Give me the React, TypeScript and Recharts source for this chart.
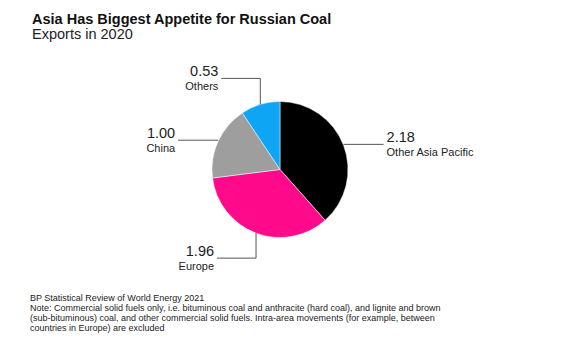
import { PieChart, Pie, Cell } from "recharts";

const regions = ["Other Asia Pacific", "Europe", "China", "Others"];
const exportsValues = [2.18, 1.96, 1.0, 0.53];
const colors = ["#000000", "#ff0a8a", "#9e9e9e", "#0ea5f5"];

const title = "Asia Has Biggest Appetite for Russian Coal";
const subtitle = "Exports in 2020";
const footer = [
  "BP Statistical Review of World Energy 2021",
  "Note: Commercial solid fuels only, i.e. bituminous coal and anthracite (hard coal), and lignite and brown",
  "(sub-bituminous) coal, and other commercial solid fuels. Intra-area movements (for example, between",
  "countries in Europe) are excluded",
];

const data = regions.map((name, i) => ({ name, value: exportsValues[i] }));

const FONT = "'Liberation Sans', Arial, sans-serif";
const RADIAN = Math.PI / 180;

function renderLabel(props: any) {
  const { cx, cy, midAngle, outerRadius, name, value } = props;
  const cos = Math.cos(-midAngle * RADIAN);
  const sin = Math.sin(-midAngle * RADIAN);
  const ex = cx + outerRadius * cos;
  const ey = cy + outerRadius * sin;
  let path: string;
  let lx: number;
  let ly: number;
  let anchor: "start" | "end";
  if (Math.abs(sin) > 0.8) {
    // elbow: go up/down, then left
    ly = ey + (sin < 0 ? -26 : 25);
    lx = ex - 39;
    path = `M${ex},${ey}L${ex},${ly}L${lx},${ly}`;
    anchor = "end";
    lx -= 3;
  } else {
    ly = ey - 1;
    const dir = cos >= 0 ? 1 : -1;
    const endX = ex + dir * 40;
    path = `M${ex},${ly}L${endX},${ly}`;
    anchor = dir > 0 ? "start" : "end";
    lx = endX + dir * 3;
  }
  const text = value.toFixed(2);
  return (
    <g>
      <path d={path} stroke="#555" strokeWidth={1} fill="none" />
      <text x={lx} y={ly - 2} textAnchor={anchor} fontSize={14.5} fill="#222" fontFamily={FONT}>
        {text}
      </text>
      <text x={lx} y={ly + 11.5} textAnchor={anchor} fontSize={11} fill="#222" fontFamily={FONT}>
        {name}
      </text>
    </g>
  );
}

export default function App() {
  return (
    <div style={{ position: "absolute", left: 0, top: 0, width: 563, height: 347, background: "#fff" }}>
      <svg width={563} height={347} style={{ position: "absolute", left: 0, top: 0 }}>
        <text x={32} y={23.5} fontSize={14.5} fontWeight="bold" fill="#111" fontFamily={FONT}>
          {title}
        </text>
        <text x={32} y={39} fontSize={14.5} fill="#222" fontFamily={FONT}>
          {subtitle}
        </text>
        {footer.map((line, i) => (
          <text key={i} x={30} y={300.5 + i * 10} fontSize={9} fill="#222" fontFamily={FONT}>
            {line}
          </text>
        ))}
      </svg>
      <div style={{ position: "absolute", left: 0, top: 0 }}>
        <PieChart width={563} height={347} margin={{ top: 0, right: 0, bottom: 0, left: 0 }}>
          <Pie
            data={data}
            dataKey="value"
            nameKey="name"
            cx={280}
            cy={169.5}
            outerRadius={68}
            startAngle={90}
            endAngle={-270}
            stroke="#fff"
            strokeWidth={0.5}
            label={renderLabel}
            labelLine={false}
            isAnimationActive={false}
          >
            {data.map((d, i) => (
              <Cell key={d.name} fill={colors[i]} />
            ))}
          </Pie>
        </PieChart>
      </div>
    </div>
  );
}
